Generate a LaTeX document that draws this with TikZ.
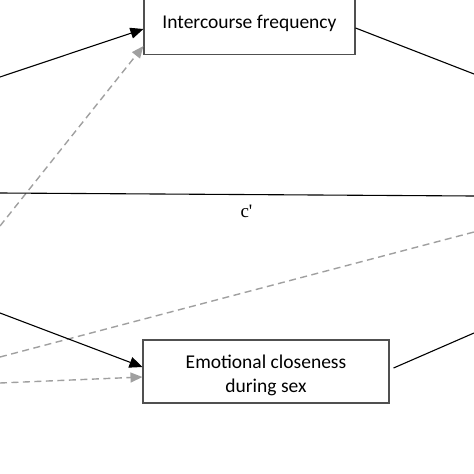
\documentclass[tikz,border=0pt]{standalone}
\usepackage{fontspec}
\setmainfont{Carlito}
\newfontfamily\timesfont{Liberation Serif}
\usetikzlibrary{arrows.meta}
\definecolor{boxline}{RGB}{80,80,80}
\definecolor{dashgray}{RGB}{160,160,160}
\tikzset{
  varbox/.style={draw=boxline, line width=1.1pt, fill=white, align=center, font=\fontsize{19.5}{24}\selectfont, inner sep=0pt},
  solidpath/.style={draw=black, line width=1.1pt},
  solidarrow/.style={solidpath, -{Triangle[length=13pt,width=11pt]}},
  dashpath/.style={draw=dashgray, line width=1.4pt, dash pattern=on 7pt off 4.5pt},
  dasharrow/.style={dashpath, -{Triangle[length=12pt,width=10pt,fill=dashgray]}},
  lbl/.style={font=\timesfont\fontsize{19}{22}\selectfont, inner sep=0pt}
}
\begin{document}
\begin{tikzpicture}[x=1pt,y=-1pt]
\useasboundingbox (0,0) rectangle (474,474);
\clip (0,0) rectangle (474,474);
% free ends
\coordinate (La) at (0,77);
\coordinate (Lb) at (0,226);
\coordinate (Lc) at (0,193);
\coordinate (Rc) at (474,196);
\coordinate (Ld) at (0,357);
\coordinate (Rd) at (474,232);
\coordinate (Le) at (0,313);
\coordinate (Lf) at (0,383);
\coordinate (Ra) at (474,74);
\coordinate (Rb) at (474,333);
% boxes
\node[varbox, minimum width=211pt, minimum height=63pt] (top) at (249.5,23) {Intercourse frequency};
\node[varbox, minimum width=246pt, minimum height=63pt] (bot) at (266,371.5) {\rule{0pt}{21pt}Emotional closeness\\during sex};
% connectors
\draw[solidarrow] (La) -- ([yshift=-6pt]top.west);
\draw[dasharrow] (Lb) -- ([yshift=-23pt]top.west);
\draw[solidpath] ([yshift=-5pt]top.east) -- (Ra);
\draw[solidpath] (Lc) -- node[lbl, below=10pt, pos=0.52] (cp) {c\symbol{39}} (Rc);
\draw[dashpath] (Ld) -- (Rd);
\draw[solidarrow] (Le) -- ([yshift=4.5pt]bot.west);
\draw[dasharrow] (Lf) -- ([yshift=-5.5pt]bot.west);
\draw[solidpath] ([xshift=4pt,yshift=3.5pt]bot.east) -- (Rb);
\end{tikzpicture}
\end{document}
